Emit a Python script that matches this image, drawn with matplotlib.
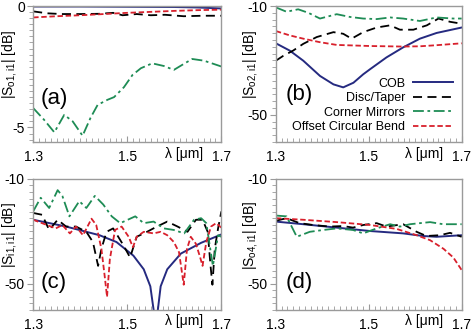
import matplotlib
matplotlib.use("Agg")
import matplotlib.pyplot as plt
from matplotlib.ticker import MultipleLocator

plt.rcParams['font.family'] = ['Liberation Sans', 'DejaVu Sans']
plt.rcParams['mathtext.fontset'] = 'custom'
plt.rcParams['mathtext.rm'] = 'Liberation Sans'
plt.rcParams['mathtext.it'] = 'Liberation Sans:italic'

# ---- panel (a): |S_o1,i1| ----
a_cob_x = [1.30, 1.40, 1.50, 1.60, 1.65, 1.70]
a_cob_y = [-0.02, -0.02, -0.03, -0.04, -0.06, -0.10]
a_disc_x = [1.30, 1.33, 1.36, 1.40, 1.44, 1.47, 1.49, 1.52, 1.55, 1.58, 1.62, 1.66, 1.70]
a_disc_y = [-0.22, -0.30, -0.33, -0.33, -0.32, -0.28, -0.38, -0.33, -0.38, -0.36, -0.42, -0.40, -0.40]
a_corner_x = [1.300, 1.323, 1.345, 1.366, 1.384, 1.405, 1.422, 1.437, 1.458, 1.472,
              1.493, 1.511, 1.529, 1.553, 1.578, 1.599, 1.617, 1.638, 1.663, 1.700]
a_corner_y = [-4.20, -4.68, -5.20, -4.48, -4.75, -5.34, -4.60, -4.07, -3.86, -3.75,
              -3.34, -2.84, -2.56, -2.36, -2.47, -2.63, -2.42, -2.18, -2.25, -2.49]
a_offset_x = [1.30, 1.35, 1.40, 1.45, 1.50, 1.55, 1.60, 1.65, 1.70]
a_offset_y = [-0.47, -0.42, -0.38, -0.33, -0.28, -0.24, -0.20, -0.17, -0.15]

# ---- panel (b): |S_o2,i1| ----
b_cob_x = [1.300, 1.330, 1.359, 1.395, 1.424, 1.445, 1.467, 1.488, 1.503, 1.538, 1.574, 1.610, 1.646, 1.700]
b_cob_y = [-23.7, -26.4, -30.1, -35.7, -38.8, -39.9, -38.2, -35.1, -33.2, -28.9, -25.2, -22.0, -19.9, -17.9]
b_disc_x = [1.300, 1.316, 1.337, 1.359, 1.388, 1.424, 1.445, 1.463, 1.488, 1.517, 1.546,
            1.567, 1.596, 1.625, 1.650, 1.675, 1.700]
b_disc_y = [-30.1, -28.3, -26.4, -23.9, -21.4, -19.6, -20.2, -22.0, -19.6, -17.9, -17.1,
            -18.7, -18.7, -17.1, -14.6, -15.8, -16.5]
b_corner_x = [1.300, 1.323, 1.348, 1.370, 1.395, 1.431, 1.459, 1.488, 1.517, 1.546,
              1.574, 1.610, 1.646, 1.682, 1.700]
b_corner_y = [-10.5, -12.1, -11.2, -12.5, -14.6, -13.0, -14.0, -14.6, -14.8, -14.2,
              -14.6, -15.5, -14.2, -14.6, -14.6]
b_offset_x = [1.300, 1.330, 1.359, 1.395, 1.431, 1.467, 1.503, 1.574, 1.610, 1.646, 1.700]
b_offset_y = [-19.2, -20.8, -22.0, -23.3, -24.3, -24.5, -24.7, -24.9, -24.8, -24.4, -23.7]

# ---- panel (c): |S_i1,i1| ----
c_cob_x = [1.300, 1.370, 1.441, 1.477, 1.513, 1.535, 1.549, 1.556, 1.560,
           1.565, 1.571, 1.585, 1.614, 1.657, 1.700]
c_cob_y = [-25.6, -28.2, -31.5, -34.1, -39.3, -44.5, -51.0, -60.0, -70.0,
           -60.0, -51.0, -44.5, -38.5, -34.4, -31.2]
c_disc_x = [1.300, 1.319, 1.334, 1.352, 1.370, 1.391, 1.413, 1.427, 1.438, 1.445, 1.456,
            1.470, 1.492, 1.506, 1.520, 1.542, 1.563, 1.585, 1.607, 1.628, 1.646, 1.660,
            1.671, 1.677, 1.681, 1.686, 1.693, 1.700]
c_disc_y = [-23.0, -23.7, -29.5, -25.6, -28.2, -28.2, -30.2, -34.1, -43.2, -36.7, -30.2,
            -28.9, -35.4, -40.0, -32.1, -30.2, -28.2, -26.3, -28.2, -30.2, -25.6, -25.6,
            -30.2, -43.2, -50.4, -36.7, -28.9, -22.4]
c_corner_x = [1.300, 1.316, 1.334, 1.352, 1.362, 1.377, 1.398, 1.413, 1.431, 1.449, 1.467,
              1.485, 1.517, 1.535, 1.556, 1.578, 1.599, 1.621, 1.642, 1.657, 1.668, 1.682,
              1.693, 1.700]
c_corner_y = [-22.4, -17.2, -21.1, -14.3, -16.5, -24.3, -18.5, -21.1, -16.5, -19.8, -24.3,
              -26.9, -24.3, -26.9, -26.3, -28.9, -29.5, -30.8, -25.6, -25.0, -26.9, -43.2,
              -31.5, -32.1]
c_offset_x = [1.300, 1.348, 1.362, 1.378, 1.391, 1.406, 1.424, 1.434, 1.445, 1.452, 1.457,
              1.463, 1.474, 1.488, 1.503, 1.512, 1.520, 1.535, 1.556, 1.571, 1.585, 1.599,
              1.610, 1.620, 1.627, 1.635, 1.646, 1.655, 1.660, 1.668, 1.678, 1.689, 1.700]
c_offset_y = [-25.6, -28.9, -27.6, -30.8, -28.2, -31.5, -25.2, -27.6, -36.7, -47.1, -55.0,
              -40.6, -29.5, -28.2, -32.1, -36.1, -32.1, -30.2, -30.8, -30.2, -31.5, -34.1,
              -38.0, -50.4, -36.7, -32.1, -34.8, -40.0, -43.2, -34.1, -28.2, -26.9, -28.6]

# ---- panel (d): |S_o4,i1| ----
d_cob_x = [1.300, 1.359, 1.431, 1.503, 1.574, 1.617, 1.646, 1.700]
d_cob_y = [-26.3, -27.3, -28.6, -29.9, -30.8, -31.8, -32.1, -31.5]
d_disc_x = [1.300, 1.323, 1.351, 1.380, 1.416, 1.445, 1.466, 1.488, 1.517, 1.538, 1.574,
            1.603, 1.624, 1.653, 1.675, 1.700]
d_disc_y = [-26.0, -25.0, -26.9, -27.6, -28.2, -28.0, -28.6, -27.6, -26.9, -28.2, -27.3,
            -30.2, -31.8, -31.5, -30.6, -32.1]
d_corner_x = [1.300, 1.323, 1.345, 1.373, 1.402, 1.431, 1.466, 1.488, 1.517, 1.546, 1.567,
              1.589, 1.610, 1.632, 1.660, 1.700]
d_corner_y = [-24.0, -24.3, -32.1, -30.2, -29.5, -28.9, -29.5, -30.8, -28.9, -27.3, -28.2,
              -27.3, -26.9, -26.5, -27.3, -27.3]
d_offset_x = [1.300, 1.359, 1.431, 1.503, 1.560, 1.603, 1.632, 1.661, 1.682, 1.700]
d_offset_y = [-25.0, -25.6, -26.5, -27.6, -29.1, -31.5, -33.4, -36.7, -40.0, -44.8]

series_names = ["COB", "Disc/Taper", "Corner Mirrors", "Offset Circular Bend"]
panel_letters = ["(a)", "(b)", "(c)", "(d)"]
ylabels = [r"|S$_{\mathrm{o1,i1}}$| [dB]", r"|S$_{\mathrm{o2,i1}}$| [dB]",
           r"|S$_{\mathrm{i1,i1}}$| [dB]", r"|S$_{\mathrm{o4,i1}}$| [dB]"]

panels = [
    [(a_cob_x, a_cob_y), (a_disc_x, a_disc_y), (a_corner_x, a_corner_y), (a_offset_x, a_offset_y)],
    [(b_cob_x, b_cob_y), (b_disc_x, b_disc_y), (b_corner_x, b_corner_y), (b_offset_x, b_offset_y)],
    [(c_cob_x, c_cob_y), (c_disc_x, c_disc_y), (c_corner_x, c_corner_y), (c_offset_x, c_offset_y)],
    [(d_cob_x, d_cob_y), (d_disc_x, d_disc_y), (d_corner_x, d_corner_y), (d_offset_x, d_offset_y)],
]

styles = [
    dict(color="#252a80", lw=1.4, ls="-"),
    dict(color="black", lw=1.3, ls=(0, (5, 3))),
    dict(color="#1e8c55", lw=1.3, ls=(0, (6, 2, 1.5, 2))),
    dict(color="#d8202c", lw=1.3, ls=(0, (3, 1.5))),
]

fig = plt.figure(figsize=(4.74, 3.35), dpi=100)
rects = [[0.070, 0.576, 0.397, 0.406], [0.582, 0.576, 0.392, 0.406],
         [0.070, 0.075, 0.397, 0.391], [0.582, 0.075, 0.392, 0.391]]
letter_pos = [(0.04, 0.32), (0.05, 0.35), (0.04, 0.21), (0.05, 0.21)]
label_x = [-0.075, -0.085, -0.075, -0.085]
spine_gray = "#9a9a9a"

for i, rect in enumerate(rects):
    ax = fig.add_axes(rect)
    for (xs, ys), st, name in zip(panels[i], styles, series_names):
        ax.plot(xs, ys, label=name, **st)
    ax.set_xlim(1.3, 1.7)
    if i == 0:
        ax.set_ylim(-5.6, 0)
        ax.set_yticks([0, -5])
        ax.set_yticklabels(["0", "-5"])
        ax.yaxis.set_minor_locator(MultipleLocator(0.25))
    else:
        ax.set_ylim(-60, -10)
        ax.set_yticks([-10, -50])
        ax.set_yticklabels(["-10", "-50"])
        ax.yaxis.set_minor_locator(MultipleLocator(2.5))
    ax.set_xticks([1.3, 1.5, 1.7])
    ax.set_xticklabels(["1.3", "1.5", "1.7"])
    ax.xaxis.set_minor_locator(MultipleLocator(0.0125))
    ax.tick_params(axis='x', which='both', direction='in', colors=spine_gray,
                   labelcolor='black', labelsize=10, pad=6)
    ax.tick_params(axis='x', which='major', length=4)
    ax.tick_params(axis='x', which='minor', length=3)
    ax.tick_params(axis='y', which='both', direction='out', colors=spine_gray,
                   labelcolor='black', labelsize=10, pad=2)
    ax.tick_params(axis='y', which='major', length=4)
    ax.tick_params(axis='y', which='minor', length=3)
    for sp in ax.spines.values():
        sp.set_color(spine_gray)
        sp.set_linewidth(1.0)
    ax.set_ylabel(ylabels[i], fontsize=10)
    # label sits beside the axis, between the two tick labels
    ax.yaxis.set_label_coords(label_x[i], 0.57)
    ax.text(0.80, -0.035, "λ [μm]", transform=ax.transAxes, ha='center', va='top', fontsize=10)
    ax.text(letter_pos[i][0], letter_pos[i][1], panel_letters[i], transform=ax.transAxes,
            ha='left', va='center', fontsize=16)
    if i == 1:
        ax.legend(loc='lower right', frameon=False, fontsize=9, markerfirst=False,
                  handlelength=3.2, handletextpad=0.6, labelspacing=0.2,
                  borderaxespad=0.3)

fig.savefig("out.png", dpi=100)
